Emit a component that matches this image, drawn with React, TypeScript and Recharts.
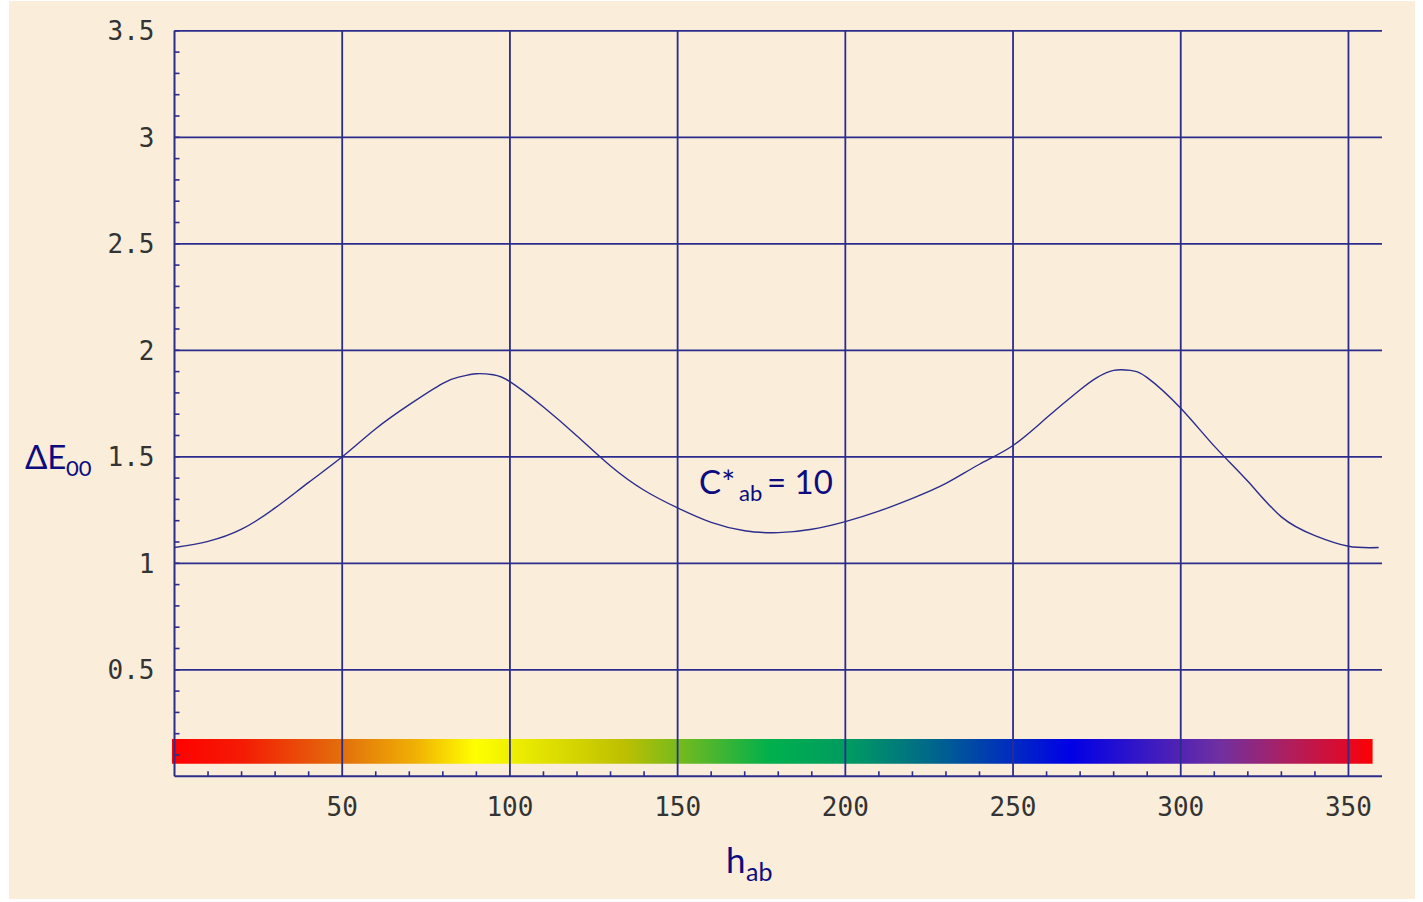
import React from 'react';
import { LineChart, Line, XAxis, YAxis, ReferenceLine, ReferenceArea } from 'recharts';

// hue angle h_ab (degrees) and colour difference ΔE00 for C*ab = 10
const hue = [0, 10, 20, 30, 40, 50, 60, 70, 80, 85, 90, 95, 100, 110, 120, 130, 140, 150, 160, 170, 180,
  190, 200, 210, 220, 230, 240, 250, 260, 270, 275, 280, 285, 290, 300, 310, 320, 330, 340, 350, 359];
const deltaE = [1.074, 1.103, 1.16, 1.26, 1.38, 1.5, 1.632, 1.745, 1.845, 1.875, 1.89, 1.885, 1.853, 1.734,
  1.598, 1.457, 1.343, 1.26, 1.192, 1.153, 1.144, 1.16, 1.196, 1.245, 1.305, 1.375, 1.465, 1.553, 1.683, 1.815,
  1.872, 1.906, 1.906, 1.872, 1.728, 1.55, 1.385, 1.218, 1.13, 1.08, 1.074];

const xLabels = [50, 100, 150, 200, 250, 300, 350];
const yLabels = [0.5, 1, 1.5, 2, 2.5, 3, 3.5];
const xMinorTicks = Array.from({ length: 36 }, (_, i) => i * 10);
const yMinorTicks = Array.from({ length: 35 }, (_, i) => (i + 1) / 10);

// hue strip under the curve
const stripHue = [-0.75, 357.2];
const stripY = [0.059, 0.175];
const stripStops: [number, string][] = [
  [0, '#ff0000'], [0.06, '#f41c04'], [0.1425, '#e2700c'], [0.2025, '#f0b004'], [0.2525, '#ffff00'],
  [0.376, '#bec000'], [0.498, '#00b04c'], [0.565, '#009a62'], [0.632, '#00688a'], [0.748, '#0000e6'],
  [0.873, '#7030a0'], [0.932, '#b01e5c'], [0.973, '#d80c30'], [1, '#ff0000'],
];

const data = hue.map((h, i) => ({ h, de: deltaE[i] }));

const NAVY = '#2c2c8c';
const TXT = '#0c0c80';
const MONO = '"DejaVu Sans Mono", monospace';
const SANS = 'Lato, "Open Sans", sans-serif';

const XTick = (props: any) => {
  const { x, y, payload } = props;
  const v = payload.value;
  return (
    <g>
      {v > 0 && v % 50 !== 0 && <line x1={x} y1={y} x2={x} y2={y - 5} stroke={NAVY} strokeWidth={1.6} />}
      {xLabels.includes(v) && (
        <text x={x} y={y} dy={40} textAnchor="middle" fontFamily={MONO} fontSize={26} fill="#333">
          {v}
        </text>
      )}
    </g>
  );
};

const YTick = (props: any) => {
  const { x, y, payload } = props;
  const v = payload.value;
  return (
    <g>
      <line x1={x} y1={y} x2={x + 5} y2={y} stroke={NAVY} strokeWidth={1.6} />
      {yLabels.includes(v) && (
        <text x={x - 20} y={y} dy="0.36em" textAnchor="end" fontFamily={MONO} fontSize={26} fill="#333">
          {v}
        </text>
      )}
    </g>
  );
};

export default function App() {
  return (
    <div style={{ position: 'absolute', left: 9, top: 1, width: 1406, height: 898, background: '#faedd9' }}>
      <LineChart width={1406} height={898} data={data} margin={{ top: 29.8, right: 33, left: 0, bottom: 0 }}>
        <defs>
          <linearGradient id="hueStrip" x1="0" y1="0" x2="1" y2="0">
            {stripStops.map(([o, c]) => (
              <stop key={o} offset={o} stopColor={c} />
            ))}
          </linearGradient>
        </defs>
        <XAxis
          type="number"
          dataKey="h"
          domain={[0, 360]}
          ticks={xMinorTicks}
          interval={0}
          tick={<XTick />}
          tickLine={false}
          tickSize={0}
          tickMargin={0}
          height={122.7}
          axisLine={{ stroke: NAVY, strokeWidth: 2 }}
        />
        <YAxis
          type="number"
          domain={[0, 3.5]}
          ticks={yMinorTicks}
          interval={0}
          tick={<YTick />}
          tickLine={false}
          tickSize={0}
          tickMargin={0}
          width={165.5}
          axisLine={{ stroke: NAVY, strokeWidth: 2 }}
        />
        {xLabels.map((v) => (
          <ReferenceLine key={'x' + v} x={v} stroke={NAVY} strokeWidth={1.8} />
        ))}
        {yLabels.map((v) => (
          <ReferenceLine key={'y' + v} y={v} stroke={NAVY} strokeWidth={1.8} />
        ))}
        <ReferenceArea
          x1={stripHue[0]}
          x2={stripHue[1]}
          y1={stripY[0]}
          y2={stripY[1]}
          fill="url(#hueStrip)"
          fillOpacity={1}
          stroke="none"
          ifOverflow="visible"
        />
        <Line
          type="natural"
          dataKey="de"
          stroke={NAVY}
          strokeWidth={1.4}
          dot={false}
          activeDot={false}
          isAnimationActive={false}
        />
      </LineChart>
      <svg width={1406} height={898} style={{ position: 'absolute', left: 0, top: 0, pointerEvents: 'none' }}>
        <text x={16} y={468} fontFamily={SANS} fontSize={33} fill={TXT}>
          ΔE
        </text>
        <text x={57} y={475} fontFamily={SANS} fontSize={22} fill={TXT}>
          00
        </text>
        <text x={690} y={493} fontFamily={SANS} fontSize={33} fill={TXT}>
          C*
        </text>
        <text x={730} y={500} fontFamily={SANS} fontSize={22} fill={TXT}>
          ab
        </text>
        <text x={758} y={493} fontFamily={SANS} fontSize={33} fill={TXT}>
          = 10
        </text>
        <text x={717} y={872} fontFamily={SANS} fontSize={35} fill={TXT}>
          h
        </text>
        <text x={737} y={880} fontFamily={SANS} fontSize={25} fill={TXT}>
          ab
        </text>
      </svg>
    </div>
  );
}
